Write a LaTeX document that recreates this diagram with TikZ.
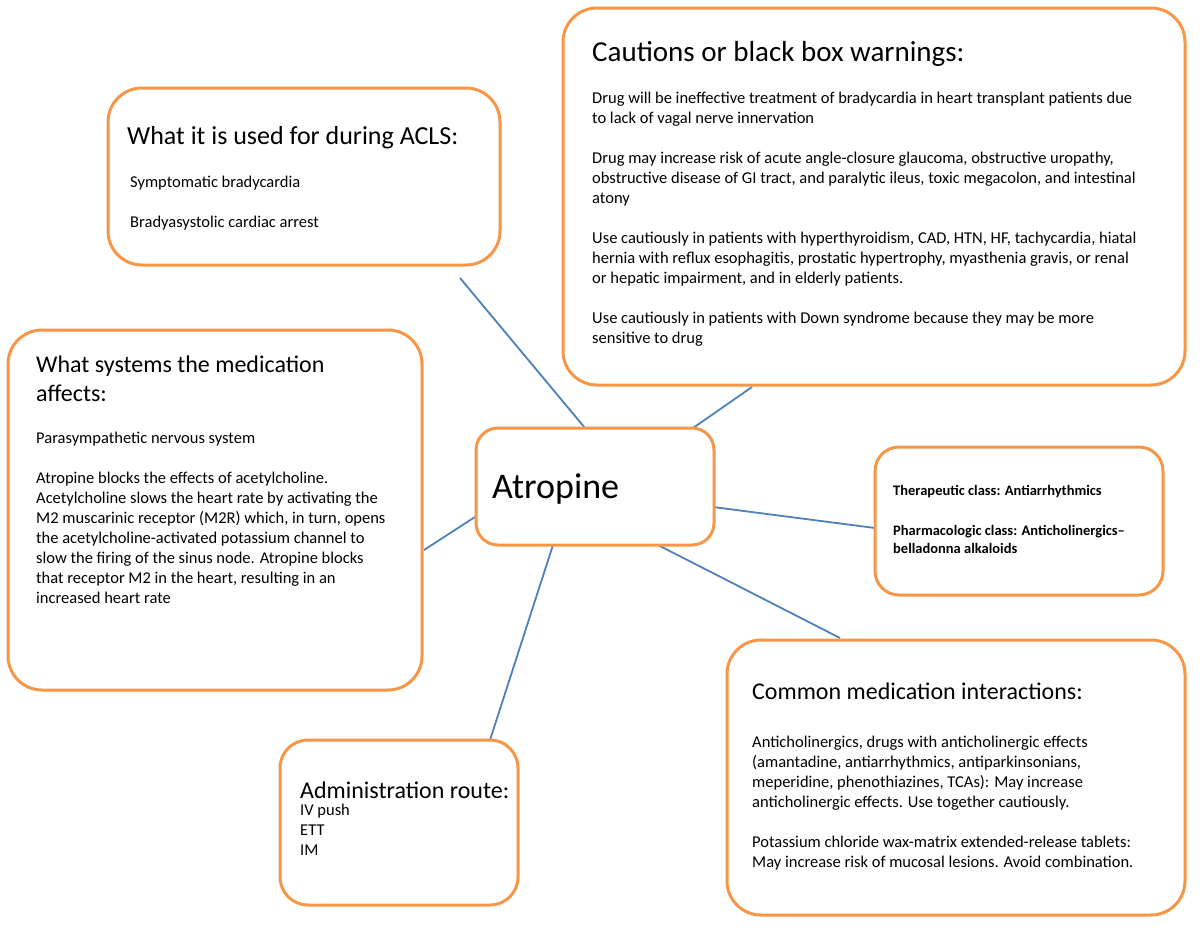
\documentclass[tikz,border=0pt]{standalone}
\usepackage{fontspec}
\setmainfont{Carlito}
\definecolor{box}{HTML}{F79646}
\definecolor{lnk}{HTML}{4F81BD}
\begin{document}
\begin{tikzpicture}[x=1pt,y=-1pt,
  card/.style={draw=box,line width=3pt,rounded corners=34pt,fill=white},
  ttl/.style={anchor=west,inner sep=0pt,font=\fontsize{24}{28}\selectfont},
  body/.style={anchor=north west,inner sep=0pt,align=left,font=\fontsize{16.5}{20}\selectfont},
  link/.style={draw=lnk,line width=1.8pt}]
\useasboundingbox[fill=white] (0,0) rectangle (1200,927);
% connectors
\coordinate (c1) at (460,278); \coordinate (c1b) at (585,428);
\coordinate (c2) at (752,387); \coordinate (c2b) at (693,428);
\coordinate (c3) at (475,517); \coordinate (c3b) at (424,550);
\coordinate (c4) at (713,507); \coordinate (c4b) at (875,528);
\coordinate (c5) at (658,545); \coordinate (c5b) at (840,638);
\coordinate (c6) at (553,545); \coordinate (c6b) at (490,740);
\draw[link] (c1)--(c1b); \draw[link] (c2)--(c2b); \draw[link] (c3)--(c3b);
\draw[link] (c4)--(c4b); \draw[link] (c5)--(c5b); \draw[link] (c6)--(c6b);
% boxes
\draw[card] (108,88) rectangle (500,265);
\draw[card] (563,8) rectangle (1185,385);
\draw[card] (8,330) rectangle (422,690);
\draw[card,rounded corners=22pt] (476,428) rectangle (714,545);
\draw[card,rounded corners=24pt] (875,447) rectangle (1163,595);
\draw[card] (727,640) rectangle (1185,915);
\draw[card,rounded corners=28pt] (280,740) rectangle (518,905);
% texts
\node[ttl,font=\fontsize{26}{30}\selectfont] (t1) at (127,138) {What it is used for during ACLS:};
\node[body] (b1) at (130,176) {Symptomatic bradycardia\\[20pt]Bradyasystolic cardiac arrest};
\node[ttl,font=\fontsize{29}{32}\selectfont] (t2) at (592,54) {Cautions or black box warnings:};
\node[body] (b2) at (592,92) {Drug will be ineffective treatment of bradycardia in heart transplant patients due\\
to lack of vagal nerve innervation\\[20pt]
Drug may increase risk of acute angle-closure glaucoma, obstructive uropathy,\\
obstructive disease of GI tract, and paralytic ileus, toxic megacolon, and intestinal\\
atony\\[20pt]
Use cautiously in patients with hyperthyroidism, CAD, HTN, HF, tachycardia, hiatal\\
hernia with reflux esophagitis, prostatic hypertrophy, myasthenia gravis, or renal\\
or hepatic impairment, and in elderly patients.\\[20pt]
Use cautiously in patients with Down syndrome because they may be more\\
sensitive to drug};
\node[ttl,anchor=north west,align=left,font=\fontsize{24}{29}\selectfont] (t3) at (36,356) {What systems the medication\\affects:};
\node[body] (b3) at (36,432) {Parasympathetic nervous system\\[20pt]
Atropine blocks the effects of acetylcholine.\\
Acetylcholine slows the heart rate by activating the\\
M2 muscarinic receptor (M2R) which, in turn, opens\\
the acetylcholine-activated potassium channel to\\
slow the firing of the sinus node. Atropine blocks\\
that receptor M2 in the heart, resulting in an\\
increased heart rate};
\node[ttl,font=\fontsize{36}{40}\selectfont] (t4) at (492,489) {Atropine};
\node[body,font=\bfseries\fontsize{14.5}{18}\selectfont] (b4) at (893,485) {Therapeutic class: Antiarrhythmics\\[22pt]
Pharmacologic class: Anticholinergics--\\belladonna alkaloids};
\node[ttl] (t5) at (752,691) {Common medication interactions:};
\node[body] (b5) at (752,736) {Anticholinergics, drugs with anticholinergic effects\\
(amantadine, antiarrhythmics, antiparkinsonians,\\
meperidine, phenothiazines, TCAs): May increase\\
anticholinergic effects. Use together cautiously.\\[20pt]
Potassium chloride wax-matrix extended-release tablets:\\
May increase risk of mucosal lesions. Avoid combination.};
\node[ttl] (t6) at (300,790) {Administration route:};
\node[body] (b6) at (300,804) {IV push\\ETT\\IM};
\end{tikzpicture}
\end{document}
